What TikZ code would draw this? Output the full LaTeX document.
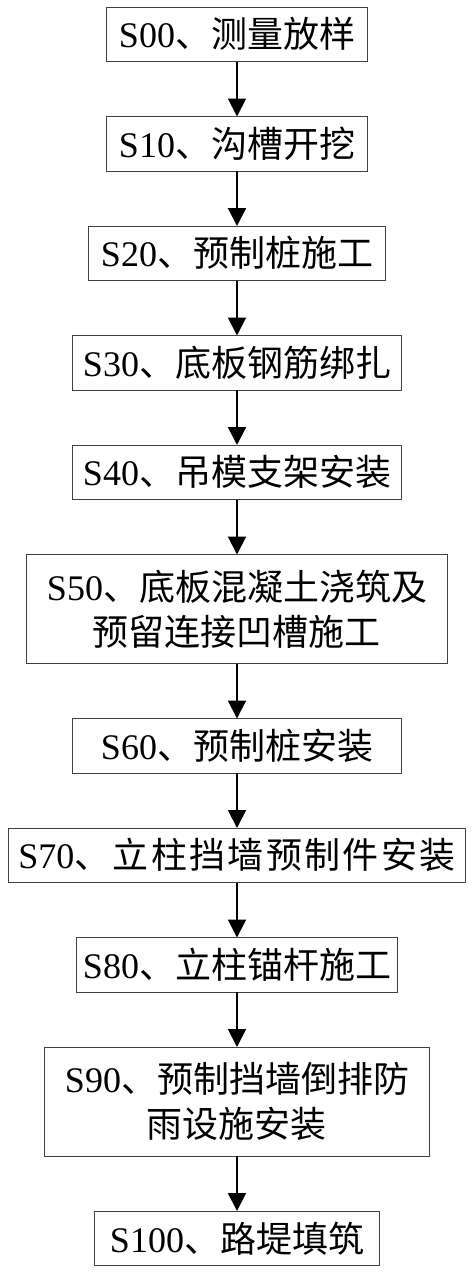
\documentclass[tikz,border=0pt]{standalone}
\usepackage{fontspec}
\setmainfont{Liberation Serif}
\newfontfamily\cjk{Noto Sans CJK SC}
\usetikzlibrary{positioning, arrows.meta}

\begin{document}
\begin{tikzpicture}[node distance=55pt,
    stepbox/.style={draw=black!75, line width=1pt, minimum height=54.5pt, inner sep=0pt, outer sep=0pt,
        align=center, font=\fontsize{36pt}{45pt}\selectfont},
    flow/.style={-{Triangle[width=18pt,length=18pt]}, line width=2pt}]

    \useasboundingbox (-237pt,7pt) rectangle (237pt,-1268pt);

    \node[stepbox, minimum width=260pt, anchor=north] (s_00) at (0,0) {S00\cjk{、测量放样}};
    \node[stepbox, minimum width=260pt] (s_10) [below=of s_00] {S10\cjk{、沟槽开挖}};
    \node[stepbox, minimum width=297pt] (s_20) [below=of s_10] {S20\cjk{、预制桩施工}};
    \node[stepbox, minimum width=329pt] (s_30) [below=of s_20] {S30\cjk{、底板钢筋绑扎}};
    \node[stepbox, minimum width=329pt] (s_40) [below=of s_30] {S40\cjk{、吊模支架安装}};
    \node[stepbox, minimum width=421pt, minimum height=109pt] (s_50) [below=of s_40]
        {S50\cjk{、底板混凝土浇筑及}\\\cjk{预留连接凹槽施工}};
    \node[stepbox, minimum width=329pt] (s_60) [below=of s_50] {S60\cjk{、预制桩安装}};
    \node[stepbox, minimum width=457pt] (s_70) [below=of s_60]
        {S70\cjk{\addfontfeature{LetterSpace=6.5}、立柱挡墙预制件安装}};
    \node[stepbox, minimum width=320pt] (s_80) [below=of s_70] {S80\cjk{、立柱锚杆施工}};
    \node[stepbox, minimum width=385pt, minimum height=109pt] (s_90) [below=of s_80]
        {S90\cjk{、预制挡墙倒排防}\\\cjk{雨设施安装}};
    \node[stepbox, minimum width=284pt] (s_100) [below=of s_90] {S100\cjk{、路堤填筑}};

    \path[flow]
    (s_00) edge (s_10)
    (s_10) edge (s_20)
    (s_20) edge (s_30)
    (s_30) edge (s_40)
    (s_40) edge (s_50)
    (s_50) edge (s_60)
    (s_60) edge (s_70)
    (s_70) edge (s_80)
    (s_80) edge (s_90)
    (s_90) edge (s_100);

\end{tikzpicture}
\end{document}
